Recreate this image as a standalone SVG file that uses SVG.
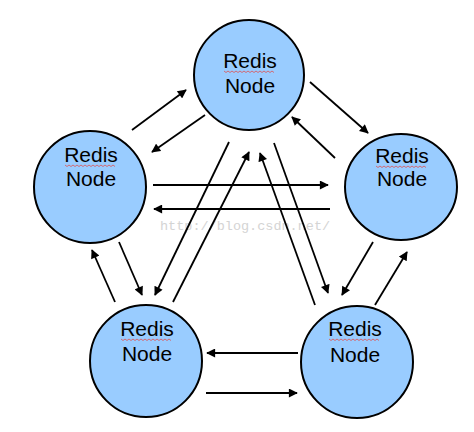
<svg xmlns="http://www.w3.org/2000/svg" width="474" height="432" viewBox="0 0 474 432">
<defs>
<style>
.node{fill:#99ccff;stroke:#000;stroke-width:2}
.lbl{font-family:"Liberation Sans",Arial,sans-serif;font-size:21px;fill:#000;text-anchor:middle}
.sq{fill:none;stroke:#e05050;stroke-width:0.8}
.c line{stroke:#000;stroke-width:1.8;marker-end:url(#ah)}
.wm{font-family:"Liberation Mono","Courier New",monospace;font-size:13.5px;fill:#d4d4d4}
</style>
<marker id="ah" viewBox="0 0 10 10" refX="9" refY="5" markerWidth="5.5" markerHeight="5" markerUnits="strokeWidth" orient="auto">
<path d="M0,0 L10,5 L0,10 z" fill="#000"/>
</marker>
</defs>
<rect width="474" height="432" fill="#fff"/>
<text class="wm" x="160" y="230">http://blog.csdn.net/</text>
<g id="connectors" class="c">
<line x1="132" y1="130" x2="186" y2="90"/>
<line x1="205" y1="115" x2="152" y2="152"/>
<line x1="310" y1="82" x2="368" y2="133"/>
<line x1="335" y1="158" x2="292" y2="117"/>
<line x1="153" y1="185" x2="328" y2="185"/>
<line x1="330" y1="209" x2="154" y2="209"/>
<line x1="298" y1="353" x2="207" y2="353"/>
<line x1="206" y1="393" x2="297" y2="393"/>
<line x1="119" y1="242" x2="142" y2="295"/>
<line x1="115" y1="302" x2="92" y2="250"/>
<line x1="229" y1="142" x2="155" y2="295"/>
<line x1="173" y1="302" x2="249" y2="152"/>
<line x1="315" y1="305" x2="260" y2="153"/>
<line x1="274" y1="143" x2="328" y2="293"/>
<line x1="373" y1="242" x2="342" y2="295"/>
<line x1="375" y1="305" x2="407" y2="252"/>
</g>
<g id="node-top">
<circle class="node" cx="249" cy="75" r="55"/>
<text class="lbl" x="250" y="68">Redis</text>
<path class="sq" d="M224,71 l2,1.5 l2,-1.5 l2,1.5 l2,-1.5 l2,1.5 l2,-1.5 l2,1.5 l2,-1.5 l2,1.5 l2,-1.5 l2,1.5 l2,-1.5 l2,1.5 l2,-1.5 l2,1.5 l2,-1.5 l2,1.5 l2,-1.5 l2,1.5 l2,-1.5 l2,1.5 l2,-1.5 l2,1.5 l2,-1.5 l2,1.5"/>
<text class="lbl" x="250" y="93">Node</text>
</g>
<g id="node-left">
<circle class="node" cx="90" cy="187" r="56"/>
<text class="lbl" x="91" y="162">Redis</text>
<path class="sq" d="M65,165 l2,1.5 l2,-1.5 l2,1.5 l2,-1.5 l2,1.5 l2,-1.5 l2,1.5 l2,-1.5 l2,1.5 l2,-1.5 l2,1.5 l2,-1.5 l2,1.5 l2,-1.5 l2,1.5 l2,-1.5 l2,1.5 l2,-1.5 l2,1.5 l2,-1.5 l2,1.5 l2,-1.5 l2,1.5 l2,-1.5 l2,1.5"/>
<text class="lbl" x="91" y="186">Node</text>
</g>
<g id="node-right">
<ellipse class="node" cx="401" cy="187" rx="56" ry="53"/>
<text class="lbl" x="402" y="163">Redis</text>
<path class="sq" d="M376,166 l2,1.5 l2,-1.5 l2,1.5 l2,-1.5 l2,1.5 l2,-1.5 l2,1.5 l2,-1.5 l2,1.5 l2,-1.5 l2,1.5 l2,-1.5 l2,1.5 l2,-1.5 l2,1.5 l2,-1.5 l2,1.5 l2,-1.5 l2,1.5 l2,-1.5 l2,1.5 l2,-1.5 l2,1.5 l2,-1.5 l2,1.5"/>
<text class="lbl" x="402" y="186">Node</text>
</g>
<g id="node-bottom-left">
<circle class="node" cx="146" cy="361" r="56"/>
<text class="lbl" x="147" y="336">Redis</text>
<path class="sq" d="M121,339 l2,1.5 l2,-1.5 l2,1.5 l2,-1.5 l2,1.5 l2,-1.5 l2,1.5 l2,-1.5 l2,1.5 l2,-1.5 l2,1.5 l2,-1.5 l2,1.5 l2,-1.5 l2,1.5 l2,-1.5 l2,1.5 l2,-1.5 l2,1.5 l2,-1.5 l2,1.5 l2,-1.5 l2,1.5 l2,-1.5 l2,1.5"/>
<text class="lbl" x="147" y="361">Node</text>
</g>
<g id="node-bottom-right">
<circle class="node" cx="357" cy="362" r="56"/>
<text class="lbl" x="355" y="336">Redis</text>
<path class="sq" d="M329,339 l2,1.5 l2,-1.5 l2,1.5 l2,-1.5 l2,1.5 l2,-1.5 l2,1.5 l2,-1.5 l2,1.5 l2,-1.5 l2,1.5 l2,-1.5 l2,1.5 l2,-1.5 l2,1.5 l2,-1.5 l2,1.5 l2,-1.5 l2,1.5 l2,-1.5 l2,1.5 l2,-1.5 l2,1.5 l2,-1.5 l2,1.5"/>
<text class="lbl" x="355" y="362">Node</text>
</g>
</svg>
